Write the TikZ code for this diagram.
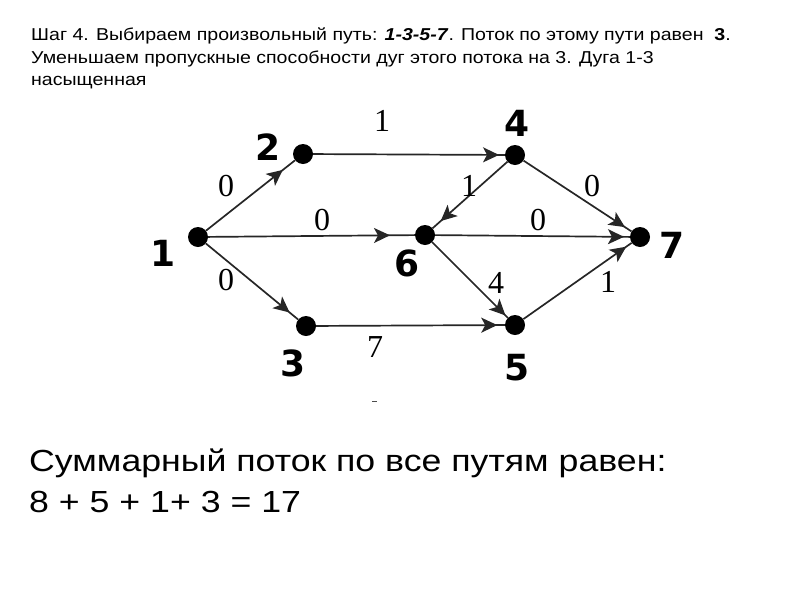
\documentclass[tikz,border=0pt]{standalone}
\usepackage{fontspec}
\setmainfont{Liberation Sans}
\newfontfamily\headfont[FakeStretch=1.137]{Liberation Sans}
\newfontfamily\sumfont[FakeStretch=1.17]{Liberation Sans}
\newfontfamily\numfont{Liberation Serif}
\newfontfamily\vfont{DejaVu Sans}
\usetikzlibrary{arrows.meta, decorations.markings, positioning}

\begin{document}
\begin{tikzpicture}[x=1pt, y=-1pt,
    vertex/.style={circle, fill=black, inner sep=0pt, minimum size=20pt},
    vlabel/.style={font=\vfont\bfseries\fontsize{36}{36}\selectfont},
    weight/.style={font=\numfont\fontsize{32}{32}\selectfont},
    headline/.style={anchor=base west, inner sep=0pt, font=\headfont\fontsize{17.2}{20}\selectfont},
    sumline/.style={anchor=base west, inner sep=0pt, font=\sumfont\fontsize{30.5}{34}\selectfont},
    arc/.style={draw=black!85, line width=1.7pt, postaction={decorate},
        decoration={markings, mark=at position #1 with {\arrow{Stealth[length=16pt, width=15pt, inset=4pt]}}}}]
\useasboundingbox (0,0) rectangle (800,600);

% Header
\node[headline] (head1) at (31,40.5) {Шаг 4. Выбираем произвольный путь: \textbf{\textit{1-3-5-7}}. Поток по этому пути равен\ \ \textbf{3}.};
\node[headline] (head2) at (31,63) {Уменьшаем пропускные способности дуг этого потока на 3. Дуга 1-3};
\node[headline] (head3) at (31,85.5) {насыщенная};

% Vertices
\node[vertex] (v1) at (198,237) {};
\node[vertex] (v2) at (303,154) {};
\node[vertex] (v3) at (306,326) {};
\node[vertex] (v4) at (515,155) {};
\node[vertex] (v5) at (515,325) {};
\node[vertex] (v6) at (425,235) {};
\node[vertex] (v7) at (640,237) {};

\node[vlabel] (l1) at (163,253) {1};
\node[vlabel] (l2) at (268,147) {2};
\node[vlabel] (l3) at (293,363) {3};
\node[vlabel] (l4) at (517,123) {4};
\node[vlabel] (l5) at (517,368) {5};
\node[vlabel] (l6) at (407,263) {6};
\node[vlabel] (l7) at (672,245) {7};

% Arcs
\draw[arc=0.865] (v1) -- (v2);
\draw[arc=0.97]  (v2) -- (v4);
\draw[arc=0.88]  (v1) -- (v6);
\draw[arc=0.91]  (v1) -- (v3);
\draw[arc=0.96]  (v3) -- (v5);
\draw[arc=0.895] (v4) -- (v6);
\draw[arc=0.94]  (v4) -- (v7);
\draw[arc=0.97]  (v6) -- (v7);
\draw[arc=0.97]  (v6) -- (v5);
\draw[arc=0.95]  (v5) -- (v7);

% Residual capacities
\node[weight] (w24) at (382,121) {1};
\node[weight] (w12) at (226,186) {0};
\node[weight] (w16) at (322,220) {0};
\node[weight] (w13) at (226,280) {0};
\node[weight] (w35) at (375,347) {7};
\node[weight] (w46) at (469,186) {1};
\node[weight] (w47) at (592,186) {0};
\node[weight] (w67) at (538,220) {0};
\node[weight] (w65) at (496,283) {4};
\node[weight] (w57) at (608,282) {1};

\draw[black!70, line width=0.8pt] (372,401) -- (377,401);

% Total
\node[sumline] (total1) at (29,471) {Суммарный поток по все путям равен:};
\node[sumline] (total2) at (29,512) {8 + 5 + 1+ 3 = 17};
\end{tikzpicture}
\end{document}
